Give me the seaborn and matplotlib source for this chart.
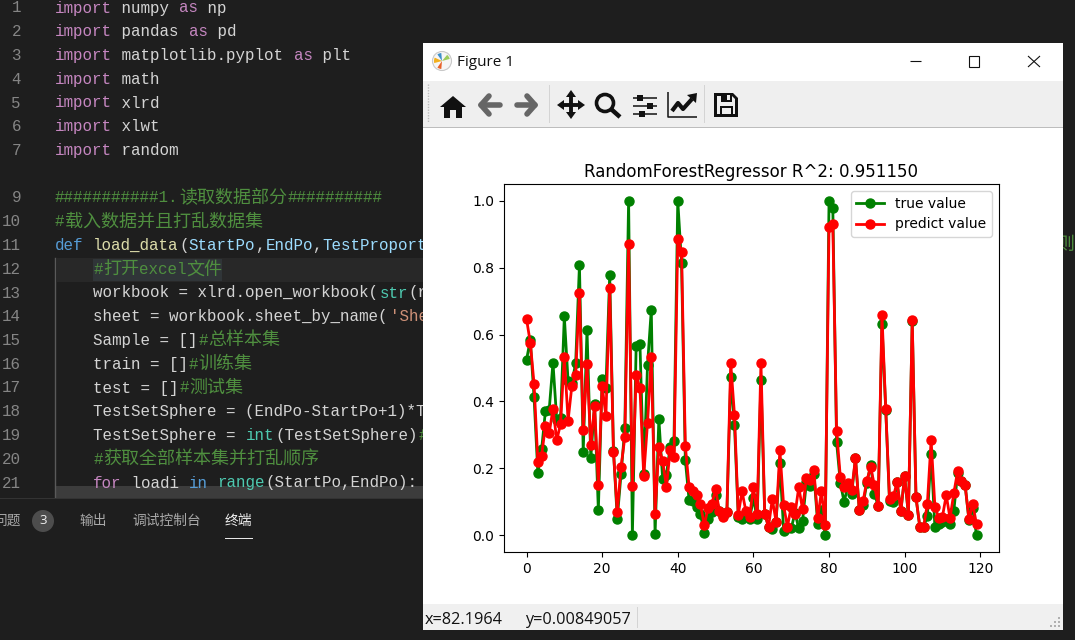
import seaborn as sns
import matplotlib.pyplot as plt
from matplotlib.patches import Rectangle, Polygon, Circle, Wedge
import pandas as pd

# -----------------------------
# DATA
# -----------------------------
true_value = [
    0.524, 0.584, 0.412, 0.186, 0.257, 0.371, 0.375, 0.516, 0.345, 0.350,
    0.654, 0.460, 0.455, 0.515, 0.808, 0.250, 0.614, 0.230, 0.393, 0.075,
    0.467, 0.440, 0.778, 0.253, 0.050, 0.183, 0.320, 1.000, 0.000, 0.567,
    0.572, 0.183, 0.508, 0.674, 0.003, 0.348, 0.169, 0.181, 0.265, 0.281,
    1.000, 0.814, 0.225, 0.105, 0.101, 0.084, 0.063, 0.008, 0.048, 0.071,
    0.120, 0.074, 0.058, 0.071, 0.473, 0.329, 0.056, 0.048, 0.066, 0.048,
    0.111, 0.050, 0.464, 0.063, 0.026, 0.019, 0.041, 0.216, 0.014, 0.021,
    0.021, 0.066, 0.021, 0.043, 0.158, 0.146, 0.184, 0.035, 0.076, 0.000,
    1.000, 0.979, 0.278, 0.156, 0.099, 0.150, 0.124, 0.231, 0.075, 0.091,
    0.156, 0.210, 0.124, 0.088, 0.632, 0.375, 0.101, 0.098, 0.158, 0.073,
    0.176, 0.060, 0.639, 0.113, 0.026, 0.026, 0.057, 0.243, 0.024, 0.034,
    0.040, 0.048, 0.033, 0.072, 0.186, 0.161, 0.149, 0.046, 0.081, 0.000,
]
predict_value = [
    0.647, 0.576, 0.452, 0.220, 0.238, 0.327, 0.305, 0.378, 0.284, 0.333,
    0.533, 0.343, 0.447, 0.479, 0.725, 0.314, 0.512, 0.269, 0.387, 0.150,
    0.447, 0.356, 0.740, 0.250, 0.069, 0.204, 0.293, 0.871, 0.148, 0.479,
    0.440, 0.178, 0.335, 0.533, 0.063, 0.264, 0.222, 0.145, 0.255, 0.234,
    0.886, 0.847, 0.267, 0.144, 0.131, 0.121, 0.093, 0.030, 0.081, 0.093,
    0.138, 0.073, 0.056, 0.071, 0.516, 0.360, 0.062, 0.131, 0.073, 0.054,
    0.145, 0.063, 0.516, 0.063, 0.026, 0.108, 0.041, 0.254, 0.089, 0.026,
    0.085, 0.063, 0.144, 0.078, 0.170, 0.164, 0.194, 0.051, 0.131, 0.030,
    0.922, 0.931, 0.311, 0.173, 0.143, 0.156, 0.135, 0.231, 0.076, 0.101,
    0.163, 0.204, 0.150, 0.088, 0.659, 0.377, 0.108, 0.116, 0.158, 0.073,
    0.178, 0.062, 0.643, 0.113, 0.026, 0.026, 0.093, 0.284, 0.086, 0.053,
    0.056, 0.120, 0.051, 0.126, 0.191, 0.161, 0.149, 0.048, 0.094, 0.033,
]
sample_index = list(range(len(true_value)))
title_text = "RandomForestRegressor R^2: 0.951150"

# code shown behind the window: (line number, indent cells, [(text, colour), ...])
KW = "#c586c0"
BL = "#569cd6"
FG = "#d4d4d4"
FN = "#dcdcaa"
PA = "#9cdcfe"
TY = "#4ec9b0"
ST = "#ce9178"
CM = "#4f8f3f"
code_lines = [
    (1, 0, [("import", KW), (" numpy ", FG), ("as", KW), (" np", FG)]),
    (2, 0, [("import", KW), (" pandas ", FG), ("as", KW), (" pd", FG)]),
    (3, 0, [("import", KW), (" matplotlib.pyplot ", FG), ("as", KW), (" plt", FG)]),
    (4, 0, [("import", KW), (" math", FG)]),
    (5, 0, [("import", KW), (" xlrd", FG)]),
    (6, 0, [("import", KW), (" xlwt", FG)]),
    (7, 0, [("import", KW), (" random", FG)]),
    (9, 0, [("###########1.读取数据部分##########", CM)]),
    (10, 0, [("#载入数据并且打乱数据集", CM)]),
    (11, 0, [("def", BL), (" ", FG), ("load_data", FN), ("(", FG), ("StartPo", PA), (",", FG),
             ("EndPo", PA), (",", FG), ("TestProportion", PA)]),
    (12, 4, [("#打开excel文件", CM)]),
    (13, 4, [("workbook = xlrd.open_workbook(", FG), ("str", TY), ("(r", FG)]),
    (14, 4, [("sheet = workbook.sheet_by_name(", FG), ("'Sheet1'", ST)]),
    (15, 4, [("Sample = []", FG), ("#总样本集", CM)]),
    (16, 4, [("train = []", FG), ("#训练集", CM)]),
    (17, 4, [("test = []", FG), ("#测试集", CM)]),
    (18, 4, [("TestSetSphere = (EndPo-StartPo+1)*T", FG)]),
    (19, 4, [("TestSetSphere = ", FG), ("int", TY), ("(TestSetSphere)", FG), ("#", CM)]),
    (20, 4, [("#获取全部样本集并打乱顺序", CM)]),
    (21, 4, [("for", KW), (" loadi ", FG), ("in", BL), (" ", FG), ("range", TY), ("(StartPo,EndPo):", FG)]),
]

# -----------------------------
# FIGURE + BACKDROP AXES IN PIXELS
# -----------------------------
fig = plt.figure(figsize=(10.75, 6.4), dpi=100, facecolor="#1e1e1e")
bg = fig.add_axes([0, 0, 1, 1])
bg.set_xlim(0, 1075)
bg.set_ylim(640, 0)
bg.axis("off")


def box(x0, y0, x1, y1, color, z=1):
    bg.add_patch(Rectangle((x0, y0), x1 - x0, y1 - y0, facecolor=color, edgecolor="none", zorder=z))


def poly(points, color="#111111", z=6):
    bg.add_patch(Polygon(points, closed=True, facecolor=color, edgecolor="none", zorder=z))


def stroke(xs, ys, color="#111111", lw=2.0, z=6, cap="butt"):
    bg.plot(xs, ys, color=color, lw=lw, zorder=z, solid_capstyle=cap, solid_joinstyle="round")


def is_cjk(ch):
    return ord(ch) > 0x2e80


def code_text(x, y, text, color, z=2):
    # ascii in a mono font, chinese in a wider font, one run at a time
    run = ""
    cjk = False
    for ch in text + "\0":
        if ch == "\0" or is_cjk(ch) != cjk:
            if run:
                fam = "Noto Sans CJK SC" if cjk else "Liberation Mono"
                size = 13 if cjk else 11.45
                bg.text(x, y, run, color=color, family=fam, fontsize=size, va="center", ha="left", zorder=z)
                x += len(run) * (18.05 if cjk else 9.56)
            run = ""
            cjk = is_cjk(ch)
        run += ch
    return x


# -----------------------------
# EDITOR BEHIND THE WINDOW
# -----------------------------
box(57, 258, 423, 282, "#282828")
box(93, 259, 222, 281, "#303538")
box(55, 486, 423, 498, "#3c3c3c", z=1.2)
bg.plot([55, 55], [258, 498], color="#5a5a5a", lw=1, zorder=1.5)
for num, indent, parts in code_lines:
    y = 8 + (num - 1) * 23.75
    bg.text(21, y, str(num), color="#858585", family="Liberation Mono", fontsize=11.45, va="center", ha="right", zorder=2)
    x = 55 + indent * 9.56
    for text, col in parts:
        x = code_text(x, y, text, col)
# tail of the long line 11, mostly hidden by the window
bg.text(1056.5, 245, "则", color=CM, family="Noto Sans CJK SC", fontsize=13, va="center", ha="left", zorder=2)

# bottom panel
box(0, 498, 423, 640, "#1e1e1e", z=3)
box(0, 498, 423, 499, "#333333", z=3)
bg.text(-6, 521, "问题", color="#a8a8a8", family="Noto Sans CJK SC", fontsize=9.9, va="center", ha="left", zorder=4)
bg.add_patch(Circle((43, 521), 11, facecolor="#4d4d4d", edgecolor="none", zorder=4))
bg.text(43, 521, "3", color="#f0f0f0", family="Open Sans", fontsize=9.5, va="center", ha="center", zorder=5)
bg.text(79, 521, "输出", color="#a8a8a8", family="Noto Sans CJK SC", fontsize=9.9, va="center", ha="left", zorder=4)
bg.text(132, 521, "调试控制台", color="#a8a8a8", family="Noto Sans CJK SC", fontsize=9.9, va="center", ha="left", zorder=4)
bg.text(225, 521, "终端", color="#f0f0f0", family="Noto Sans CJK SC", fontsize=9.9, va="center", ha="left", zorder=4)
box(225, 538, 253, 539, "#e7e7e7", z=4)

# -----------------------------
# FIGURE WINDOW
# -----------------------------
box(423, 43, 1063, 81, "#ffffff", z=5)
box(423, 81, 1063, 127, "#efefef", z=5)
box(423, 127, 1063, 128, "#bdbdbd", z=5)
box(423, 128, 1063, 604, "#ffffff", z=5)
box(423, 604, 1063, 630, "#f0f0f0", z=5)

# title bar
bg.add_patch(Circle((442, 61), 9.5, facecolor="#f6f6f6", edgecolor="#c8c8c8", lw=0.8, zorder=6))
bg.add_patch(Wedge((442, 61), 8, 165, 205, facecolor="#f2b01e", edgecolor="none", zorder=7))
bg.add_patch(Wedge((442, 61), 8, 95, 125, facecolor="#e8622a", edgecolor="none", zorder=7))
bg.add_patch(Wedge((442, 61), 8, 310, 345, facecolor="#9ccb5b", edgecolor="none", zorder=7))
bg.add_patch(Wedge((442, 61), 8, 235, 265, facecolor="#3f8fc9", edgecolor="none", zorder=7))
bg.text(457, 62, "Figure 1", color="#111111", family="Open Sans", fontsize=11, va="center", ha="left", zorder=6)
stroke([910, 921], [61, 61], lw=0.8)
bg.add_patch(Rectangle((969, 56), 10, 10.5, facecolor="none", edgecolor="#111111", lw=0.8, zorder=6))
stroke([1028, 1040], [56, 67], lw=0.8)
stroke([1028, 1040], [67, 56], lw=0.8)

# toolbar grip + separators
bg.plot([428, 428], [84, 122], color="#bbbbbb", lw=1, ls=(0, (1, 1)), zorder=6)
box(549, 85, 550, 123, "#d4d4d4", z=6)
box(704, 85, 705, 123, "#d4d4d4", z=6)

# home
poly([(440, 107), (453, 96), (466, 107), (462, 107), (462, 118), (456, 118), (456, 110),
      (450, 110), (450, 118), (444, 118), (444, 107)])
# back / forward
stroke([489, 481, 489], [96, 105, 114], color="#666666", lw=4, cap="round")
stroke([481, 500], [105, 105], color="#666666", lw=4, cap="round")
stroke([527, 535, 527], [96, 105, 114], color="#666666", lw=4, cap="round")
stroke([535, 517], [105, 105], color="#666666", lw=4, cap="round")
# move
stroke([571, 571], [95, 115], lw=2.8)
stroke([560, 582], [105, 105], lw=2.8)
poly([(571, 90), (576, 97), (566, 97)])
poly([(571, 119), (576, 112), (566, 112)])
poly([(557, 105), (564, 100), (564, 110)])
poly([(585, 105), (578, 100), (578, 110)])
# zoom
bg.add_patch(Circle((605, 103), 8.5, facecolor="none", edgecolor="#111111", lw=2.6, zorder=6))
stroke([611, 620], [109, 117], lw=3.2)
# sliders
for yy, xm in [(98, 640), (106, 650), (114, 642)]:
    stroke([633, 657], [yy, yy], lw=1.1)
    box(xm - 3, yy - 3, xm + 3, yy + 3, "#111111", z=6)
# chart
stroke([667.5, 667.5, 697], [92, 116.5, 116.5], lw=1.1)
stroke([672, 678, 683, 692], [111, 103, 109, 99], lw=3)
poly([(687, 95), (697, 93), (696, 103)])
# save
poly([(714, 93), (733, 93), (738, 98), (738, 117), (714, 117)])
poly([(717, 96), (732, 96), (735, 99), (735, 114), (717, 114)], color="#efefef", z=7)
box(721, 93, 732, 102, "#111111", z=8)
box(727, 95, 730, 100, "#efefef", z=9)
box(720, 106, 733, 115, "#111111", z=8)
box(722, 108, 731, 114, "#efefef", z=9)

# status bar
bg.text(425, 620, "x=82.1964", color="#111111", family="Open Sans", fontsize=11.7, va="center", ha="left", zorder=6)
bg.text(525, 620, "y=0.00849057", color="#111111", family="Open Sans", fontsize=11.7, va="center", ha="left", zorder=6)
box(637, 607, 638, 628, "#d4d4d4", z=6)
for gx, gy in [(1058, 625), (1054, 625), (1050, 625), (1058, 621), (1054, 621), (1058, 617)]:
    box(gx, gy, gx + 2, gy + 2, "#b0b0b0", z=6)

# -----------------------------
# THE CHART ITSELF
# -----------------------------
ax = fig.add_axes([504 / 1075, 1 - 552 / 640, 495 / 1075, 368 / 640], zorder=10)
df = pd.DataFrame({"index": sample_index, "true value": true_value, "predict value": predict_value})
sns.lineplot(data=df, x="index", y="true value", color="green", marker="o", markersize=6.5, markeredgewidth=1,
             markeredgecolor="green", linewidth=2, label="true value", ax=ax)
sns.lineplot(data=df, x="index", y="predict value", color="red", marker="o", markersize=6.5, markeredgewidth=1,
             markeredgecolor="red", linewidth=2, label="predict value", ax=ax)
ax.set_xlabel("")
ax.set_ylabel("")
ax.set_xticks([0, 20, 40, 60, 80, 100, 120])
ax.set_yticks([0.0, 0.2, 0.4, 0.6, 0.8, 1.0])
ax.set_title(title_text, fontsize=12, pad=5)
ax.legend(loc="upper right", fontsize=10)

plt.savefig("out.png", dpi=100, facecolor=fig.get_facecolor())
